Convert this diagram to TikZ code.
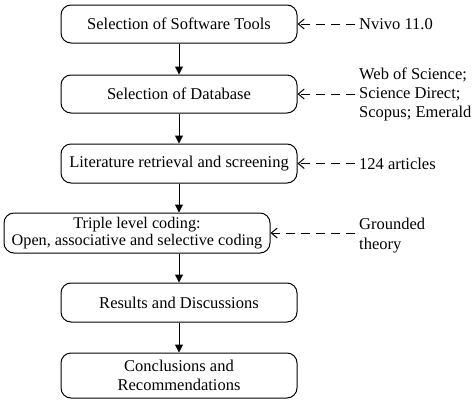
\documentclass[tikz,border=0pt]{standalone}
\usepackage{fontspec}
\setmainfont{Liberation Serif}
\usetikzlibrary{arrows.meta}
\begin{document}
\begin{tikzpicture}[x=1pt,y=-1pt,
  stepbox/.style={draw,line width=1pt,rounded corners=10pt,align=center,font=\fontsize{16.5}{19}\selectfont,inner sep=0pt},
  lbl/.style={anchor=west,align=left,font=\fontsize{16.5}{19}\selectfont,inner sep=0pt},
  flow/.style={-{Triangle[length=8pt,width=8pt]},line width=1pt},
  dashlink/.style={-{Straight Barb[length=6pt,width=10pt]},line width=1pt,dash pattern=on 9pt off 6pt}]
\useasboundingbox (0,0) rectangle (474,402);
\node[stepbox,minimum width=236pt,minimum height=38pt] (b1) at (179,24) {Selection of Software Tools};
\node[stepbox,minimum width=236pt,minimum height=38pt] (b2) at (179,94) {Selection of Database};
\node[stepbox,minimum width=236pt,minimum height=39pt] (b3) at (179,163.5) {Literature retrieval and screening};
\node[stepbox,minimum width=266pt,minimum height=40pt,font=\fontsize{16.2}{16.5}\selectfont] (b4) at (137,233) {Triple level coding:\\Open, associative and selective coding};
\node[stepbox,minimum width=236pt,minimum height=39pt] (b5) at (179,302.5) {Results and Discussions};
\node[stepbox,minimum width=236pt,minimum height=45pt] (b6) at (179,375.5) {Conclusions and\\Recommendations};
\draw[flow] (b1.south) -- (b2.north);
\draw[flow] (b2.south) -- (b3.north);
\draw[flow] (b3.south -| b1.south) -- (b4.north -| b1.south);
\draw[flow] (b4.south -| b1.south) -- (b5.north);
\draw[flow] (b5.south) -- (b6.north);
\node[lbl] (l1) at (359,24) {Nvivo 11.0};
\node[lbl] (l2) at (359,94) {Web of Science;\\Science Direct;\\Scopus; Emerald};
\node[lbl] (l3) at (359,163.5) {124 articles};
\node[lbl,font=\fontsize{16.5}{20}\selectfont] (l4) at (359,236) {Grounded\\theory};
\coordinate (c1) at (355,24);
\coordinate (c2) at (355,94);
\coordinate (c3) at (355,163.5);
\coordinate (c4) at (355,233);
\draw[dashlink] (c1) -- (b1.east);
\draw[dashlink] (c2) -- (b2.east);
\draw[dashlink] (c3) -- (b3.east);
\draw[dashlink] (c4) -- (b4.east);
\end{tikzpicture}
\end{document}
